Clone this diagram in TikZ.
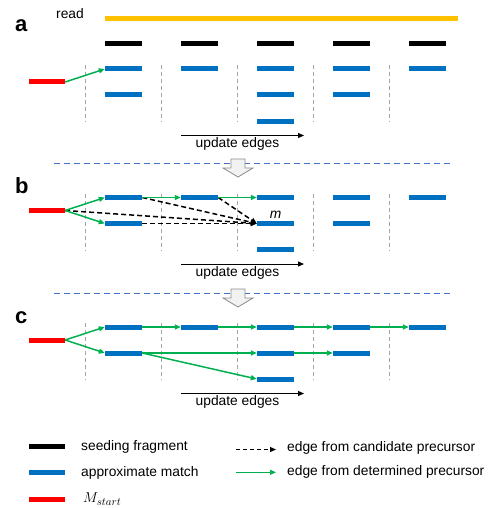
\documentclass[tikz,border=0pt]{standalone}
\usepackage{fontspec}
\setmainfont{Liberation Sans}
\usetikzlibrary{arrows.meta}
\definecolor{cyel}{RGB}{255,192,0}
\definecolor{cblue}{RGB}{0,112,192}
\definecolor{cgreen}{RGB}{0,176,80}
\definecolor{cred}{RGB}{255,0,0}
\definecolor{csep}{RGB}{68,114,196}
\definecolor{cgrid}{RGB}{166,166,166}
\definecolor{cblock}{RGB}{242,242,242}
\definecolor{cblockline}{RGB}{140,140,140}
\begin{document}
\begin{tikzpicture}[x=1pt,y=-1pt,
  bar/.style={inner sep=0pt, minimum width=37pt, minimum height=5pt, fill=#1, draw=none},
  txt/.style={font=\fontsize{13.8}{16}\selectfont, inner sep=0pt},
  plabel/.style={font=\fontsize{22}{24}\selectfont\bfseries, inner sep=0pt, anchor=base west},
  gedge/.style={draw=cgreen, line width=1.5pt, -{Triangle[length=6pt,width=5pt]}},
  cedge/.style={draw=black, line width=1.5pt, dash pattern=on 5pt off 3pt, -{Triangle[length=6pt,width=5pt]}},
  grid/.style={draw=cgrid, line width=0.8pt, dash pattern=on 4pt off 3pt},
  sep/.style={draw=csep, line width=1pt, dash pattern=on 6pt off 4pt},
  upd/.style={draw=black, line width=1pt, -{Triangle[length=6pt,width=5pt]}},
  blockarrow/.style={fill=cblock, draw=cblockline, line width=0.8pt}
]
\useasboundingbox (0,0) rectangle (499,508);

% panel labels
\node[plabel] (la) at (15,32) {a};
\node[plabel] (lb) at (15,193) {b};
\node[plabel] (lc) at (15,323) {c};

% read
\node[txt] (readtxt) at (70,14) {read};
\node[inner sep=0pt, minimum width=353pt, minimum height=5.5pt, fill=cyel] (readbar) at (281.5,18.5) {};

% seeding fragments
\foreach \c in {1,...,5}{
  \node[bar=black] (s\c) at ({123.5+76*(\c-1)},44) {};
}

% panels
\foreach \p/\y in {a/69,b/197.5,c/327}{
  \foreach \x in {85.5,161.5,237.5,313.5,389.5}{
    \draw[grid] (\x,\y-4) -- (\x,\y+53);
  }
  \node[bar=cred, minimum width=36pt] (\p red) at (47,\y+13) {};
  \foreach \c/\r in {1/1,1/2,2/1,3/1,3/2,3/3,4/1,4/2,5/1}{
    \node[bar=cblue] (\p\c\r) at ({123.5+76*(\c-1)},{\y+26*(\r-1)}) {};
  }
  \coordinate (\p us) at (181,\y+66.5);
  \coordinate (\p ue) at (304,\y+66.5);
  \draw[upd] (\p us) -- (\p ue);
  \node[txt] (\p ut) at (237.5,\y+75) {update edges};
}

% panel a edges
\draw[gedge] (ared.east) -- (a11.west);

% panel b edges
\draw[cedge] (bred.east) -- (b32.west);
\draw[cedge] (b12.east) -- (b32.west);
\draw[cedge] (b11.east) -- (b32.west);
\draw[cedge] (b21.east) -- (b32.west);
\draw[gedge] (bred.east) -- (b11.west);
\draw[gedge] (bred.east) -- (b12.west);
\draw[gedge] (b11.east) -- (b21.west);
\draw[gedge] (b21.east) -- (b31.west);
\node[txt, font=\fontsize{13.8}{16}\selectfont\itshape] (mlabel) at (275.5,214.5) {m};

% panel c edges
\draw[gedge] (cred.east) -- (c11.west);
\draw[gedge] (cred.east) -- (c12.west);
\draw[gedge] (c11.east) -- (c21.west);
\draw[gedge] (c21.east) -- (c31.west);
\draw[gedge] (c31.east) -- (c41.west);
\draw[gedge] (c41.east) -- (c51.west);
\draw[gedge] (c12.east) -- (c32.west);
\draw[gedge] (c32.east) -- (c42.west);
\draw[gedge] (c12.east) -- (c33.west);

% separators and block arrows
\foreach \L/\n in {163/1,293/2}{
  \coordinate (sepl\n) at (54,\L);
  \coordinate (sepr\n) at (452,\L);
  \draw[sep] (sepl\n) -- (sepr\n);
  \draw[blockarrow] (231,\L-4) -- (245,\L-4) -- (245,\L+5) -- (253,\L+5) -- (238,\L+14) -- (223,\L+5) -- (231,\L+5) -- cycle;
}

% legend
\node[bar=black, minimum width=36pt] (legseed) at (47,446.7) {};
\node[bar=cblue, minimum width=36pt] (legblue) at (47,472.7) {};
\node[bar=cred, minimum width=36pt] (legred) at (47,499) {};
\node[txt, anchor=west] (legseedt) at (81,446.7) {seeding fragment};
\node[txt, anchor=west] (legbluet) at (81,472.7) {approximate match};
\node[txt, anchor=west, font=\fontsize{15.5}{17}\selectfont] (legredt) at (83,499) {$M_{start}$};
\coordinate (lc1) at (236,449.5);
\coordinate (lc2) at (276,449.5);
\draw[cedge, line width=1.1pt, dash pattern=on 4pt off 3pt] (lc1) -- (lc2);
\coordinate (lg1) at (236,472.3);
\coordinate (lg2) at (276,472.3);
\draw[gedge, line width=1.1pt] (lg1) -- (lg2);
\node[txt, anchor=west] (legct) at (287,447.5) {edge from candidate precursor};
\node[txt, anchor=west] (leggt) at (287,472.3) {edge from determined precursor};
\end{tikzpicture}
\end{document}
